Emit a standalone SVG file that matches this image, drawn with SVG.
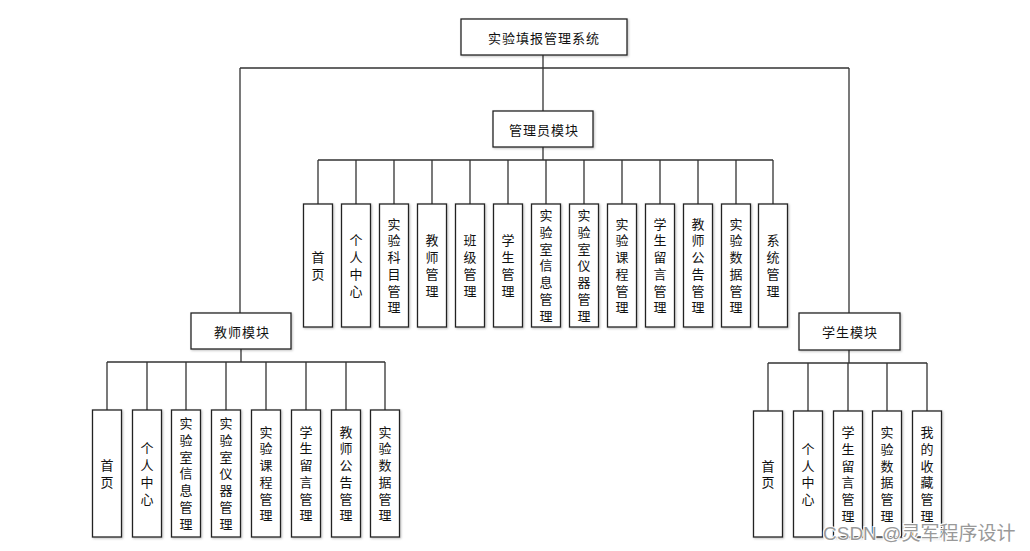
<svg xmlns="http://www.w3.org/2000/svg" width="1030" height="551" viewBox="0 0 1030 551">
<defs>
<filter id="sh" x="-20%" y="-20%" width="140%" height="140%"><feDropShadow dx="1" dy="1" stdDeviation="0.8" flood-color="#000" flood-opacity="0.25"/></filter>
</defs>
<style>
rect.b{fill:#fff;stroke:#222;stroke-width:1.3;filter:url(#sh)}
.c{fill:none;stroke:#333;stroke-width:1.3}
text{font-family:"Noto Sans CJK SC","Liberation Sans",sans-serif;font-size:13px;fill:#111}
text.h{text-anchor:middle;dominant-baseline:central;letter-spacing:1px}
text.v{text-anchor:middle;writing-mode:vertical-rl;letter-spacing:3.7px}
text.wm{font-family:"Liberation Sans","Noto Sans CJK SC",sans-serif;font-size:19px;fill:#999;stroke:#fff;stroke-width:2;paint-order:stroke}
</style>
<rect width="1030" height="551" fill="#fff"/>
<g id="connectors">
<path class="c" d="M543 55V111M240 68H849M240 68V313M849 68V313"/>
<path class="c" d="M543 147V160M318 160H773M318 160V204M356 160V204M394 160V204M432 160V204M470 160V204M508 160V204M546 160V204M584 160V204M622 160V204M660 160V204M698 160V204M736 160V204M773 160V204"/>
<path class="c" d="M241 349V362M107 362H385M107 362V410M147 362V410M186 362V410M226 362V410M266 362V410M306 362V410M346 362V410M385 362V410"/>
<path class="c" d="M849 350V363M768 363H927M768 363V411M808 363V411M848 363V411M887 363V411M927 363V411"/>
</g>
<g id="root"><rect class="b" x="461" y="19" width="166" height="36"/><text class="h" x="544" y="37">实验填报管理系统</text></g>
<g id="admin"><rect class="b" x="493" y="111" width="100" height="36"/><text class="h" x="544" y="129">管理员模块</text></g>
<g id="teacher"><rect class="b" x="191" y="313" width="100" height="36"/><text class="h" x="242" y="331">教师模块</text></g>
<g id="student"><rect class="b" x="799" y="313" width="101" height="37"/><text class="h" x="850" y="331.5">学生模块</text></g>

<g id="a1"><rect class="b" x="303.5" y="204" width="29" height="123"/><text class="v" x="318" y="267.4">首页</text></g>
<g id="a2"><rect class="b" x="341.5" y="204" width="29" height="123"/><text class="v" x="356" y="267.4">个人中心</text></g>
<g id="a3"><rect class="b" x="379.5" y="204" width="29" height="123"/><text class="v" x="394" y="267.4">实验科目管理</text></g>
<g id="a4"><rect class="b" x="417.5" y="204" width="29" height="123"/><text class="v" x="432" y="267.4">教师管理</text></g>
<g id="a5"><rect class="b" x="455.5" y="204" width="29" height="123"/><text class="v" x="470" y="267.4">班级管理</text></g>
<g id="a6"><rect class="b" x="493.5" y="204" width="29" height="123"/><text class="v" x="508" y="267.4">学生管理</text></g>
<g id="a7"><rect class="b" x="531.5" y="204" width="29" height="123"/><text class="v" x="546" y="267.4">实验室信息管理</text></g>
<g id="a8"><rect class="b" x="569.5" y="204" width="29" height="123"/><text class="v" x="584" y="267.4">实验室仪器管理</text></g>
<g id="a9"><rect class="b" x="607.5" y="204" width="29" height="123"/><text class="v" x="622" y="267.4">实验课程管理</text></g>
<g id="a10"><rect class="b" x="645.5" y="204" width="29" height="123"/><text class="v" x="660" y="267.4">学生留言管理</text></g>
<g id="a11"><rect class="b" x="683.5" y="204" width="29" height="123"/><text class="v" x="698" y="267.4">教师公告管理</text></g>
<g id="a12"><rect class="b" x="721.5" y="204" width="29" height="123"/><text class="v" x="736" y="267.4">实验数据管理</text></g>
<g id="a13"><rect class="b" x="758.5" y="204" width="29" height="123"/><text class="v" x="773" y="267.4">系统管理</text></g>

<g id="t1"><rect class="b" x="92.5" y="410" width="29" height="127"/><text class="v" x="107" y="475.4">首页</text></g>
<g id="t2"><rect class="b" x="132.5" y="410" width="29" height="127"/><text class="v" x="147" y="475.4">个人中心</text></g>
<g id="t3"><rect class="b" x="171.5" y="410" width="29" height="127"/><text class="v" x="186" y="475.4">实验室信息管理</text></g>
<g id="t4"><rect class="b" x="211.5" y="410" width="29" height="127"/><text class="v" x="226" y="475.4">实验室仪器管理</text></g>
<g id="t5"><rect class="b" x="251.5" y="410" width="29" height="127"/><text class="v" x="266" y="475.4">实验课程管理</text></g>
<g id="t6"><rect class="b" x="291.5" y="410" width="29" height="127"/><text class="v" x="306" y="475.4">学生留言管理</text></g>
<g id="t7"><rect class="b" x="331.5" y="410" width="29" height="127"/><text class="v" x="346" y="475.4">教师公告管理</text></g>
<g id="t8"><rect class="b" x="370.5" y="410" width="29" height="127"/><text class="v" x="385" y="475.4">实验数据管理</text></g>

<g id="s1"><rect class="b" x="753.5" y="411" width="29" height="126"/><text class="v" x="768" y="475.9">首页</text></g>
<g id="s2"><rect class="b" x="793.5" y="411" width="29" height="126"/><text class="v" x="808" y="475.9">个人中心</text></g>
<g id="s3"><rect class="b" x="833.5" y="411" width="29" height="126"/><text class="v" x="848" y="475.9">学生留言管理</text></g>
<g id="s4"><rect class="b" x="872.5" y="411" width="29" height="126"/><text class="v" x="887" y="475.9">实验数据管理</text></g>
<g id="s5"><rect class="b" x="912.5" y="411" width="29" height="126"/><text class="v" x="927" y="475.9">我的收藏管理</text></g>

<text class="wm" x="823" y="540">CSDN @灵军程序设计</text>
</svg>
